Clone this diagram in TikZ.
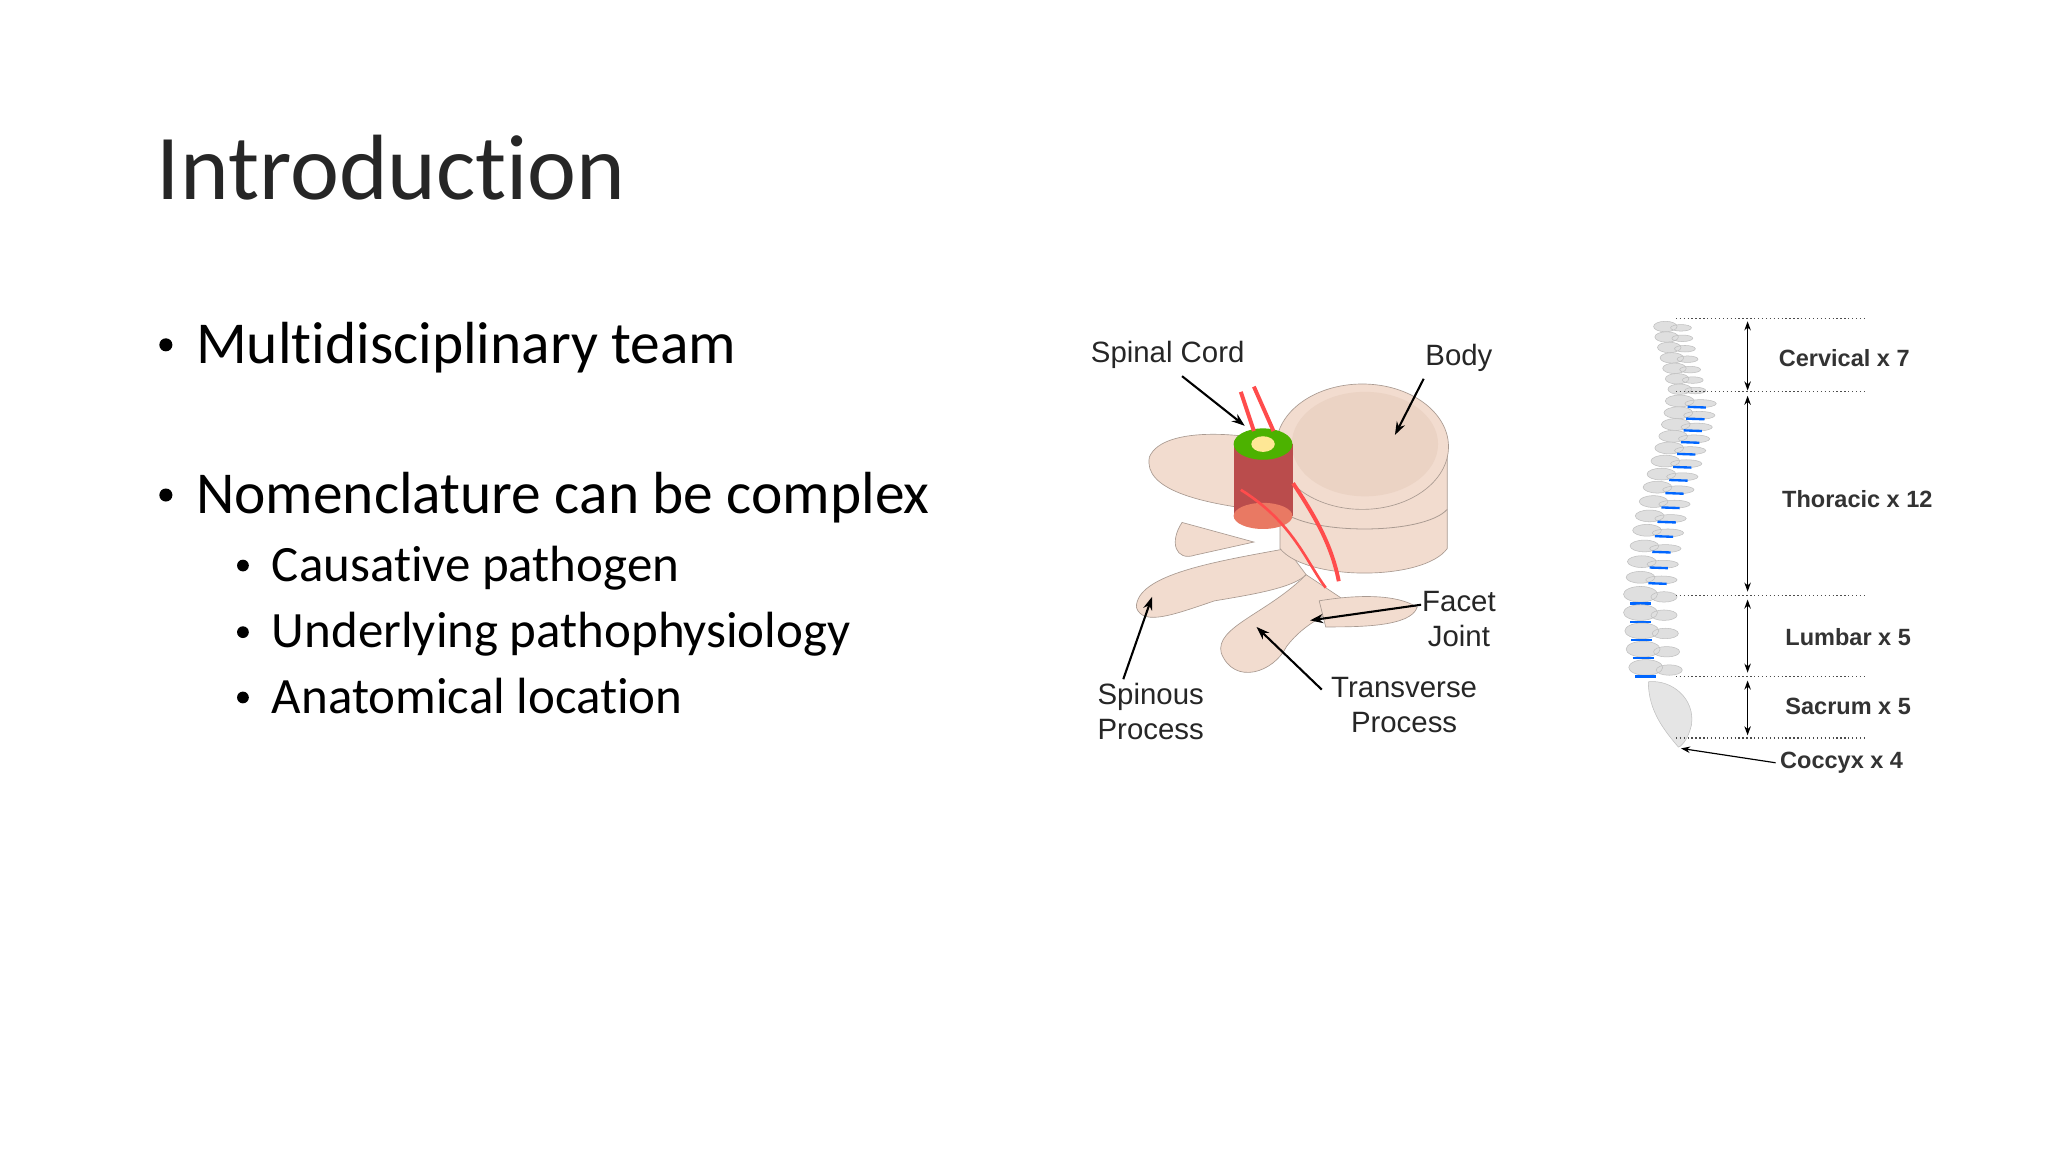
\documentclass[tikz,border=0pt]{standalone}
\usepackage{fontspec}
\setmainfont{Carlito}[Ligatures=NoCommon]
\newfontfamily\lab{Liberation Sans}
\usetikzlibrary{arrows.meta}
\begin{document}
\begin{tikzpicture}[x=1pt,y=-1pt,
  lbl/.style={font=\lab\fontsize{22.5}{27}\selectfont,align=center,text=black!85},
  slbl/.style={font=\lab\bfseries\fontsize{18}{22}\selectfont,text=black!80},
  arr/.style={-{Stealth[length=10pt,width=7pt]},line width=1.6pt},
  dim/.style={{Stealth[length=7pt,width=5pt]}-{Stealth[length=7pt,width=5pt]},line width=0.9pt},
  dots/.style={dotted,line width=1pt,black!70},
  bullet/.style={circle,fill=black,inner sep=0pt,minimum size=10pt},
  bone/.style={fill=bonec,draw=bonec!70!black,line width=0.5pt}]
\definecolor{bonec}{HTML}{F2DCCF}
\definecolor{bodytop}{HTML}{EBD3C4}
\useasboundingbox (0,0) rectangle (1568,882);
\fill[white] (0,0) rectangle (1568,882);
% text
\node[anchor=base west,inner sep=0pt,font=\fontsize{71}{80}\selectfont,text=black!85] (title) at (120,153) {Introduction};
\node[bullet] (p1) at (127,264) {};
\node[anchor=base west,inner sep=0pt,font=\fontsize{45.5}{52}\selectfont] (b1) at (150,278) {Multidisciplinary team};
\node[bullet] (p2) at (127,379) {};
\node[anchor=base west,inner sep=0pt,font=\fontsize{45.5}{52}\selectfont] (b2) at (150,393) {Nomenclature can be complex};
\node[bullet,minimum size=9pt] (p3) at (186,433) {};
\node[anchor=base west,inner sep=0pt,font=\fontsize{39}{46}\selectfont] (s1) at (208,445) {Causative pathogen};
\node[bullet,minimum size=9pt] (p4) at (186,484) {};
\node[anchor=base west,inner sep=0pt,font=\fontsize{39}{46}\selectfont] (s2) at (208,496) {Underlying pathophysiology};
\node[bullet,minimum size=9pt] (p5) at (186,534) {};
\node[anchor=base west,inner sep=0pt,font=\fontsize{39}{46}\selectfont] (s3) at (208,546) {Anatomical location};
% vertebra
\path[bone] (1000,345) .. controls (960,330) and (890,325) .. (880,350) .. controls (875,375) and (920,385) .. (960,390) -- cycle;
\path[bone] (905,400) .. controls (895,415) and (900,430) .. (915,425) -- (960,415) -- cycle;
\path[bone] (985,420) .. controls (930,430) and (870,440) .. (870,465) .. controls (875,480) and (900,470) .. (930,460) .. controls (960,455) and (990,450) .. (1000,440) -- cycle;
\path[bone] (1000,440) .. controls (970,470) and (930,480) .. (935,500) .. controls (945,525) and (975,515) .. (985,495) .. controls (1000,475) and (1020,470) .. (1030,460) -- cycle;
\path[bone] (1010,460) .. controls (1040,455) and (1070,455) .. (1085,465) .. controls (1080,480) and (1040,480) .. (1015,480) -- cycle;
\path[bone] (980,340) -- (980,420) .. controls (1000,445) and (1090,445) .. (1108,420) -- (1108,340) -- cycle;
\draw[bonec!70!black,line width=0.6pt] (980,390) .. controls (1000,410) and (1090,410) .. (1108,390);
\path[bone] (1043,342) ellipse[x radius=66,y radius=48];
\fill[bodytop] (1045,340) ellipse[x radius=56,y radius=40];
% spinal cord
\fill[red!55!black!60!pink] (945,340) rectangle (990,395);
\fill[red!50!brown!70] (967,395) ellipse[x radius=22.5,y radius=10];
\fill[green!50!black!60!lime] (967,340) ellipse[x radius=22.5,y radius=12];
\fill[yellow!60!orange!40] (967,340) ellipse[x radius=9,y radius=6];
\draw[red!60!pink,line width=3pt] (960,330) -- (950,300) (975,330) -- (960,296) (990,370) .. controls (1010,400) and (1020,420) .. (1025,445);
\draw[red!60!pink,line width=2pt] (950,375) .. controls (990,400) and (1000,430) .. (1015,450);
% labels vertebra
\node[lbl] (sc) at (894,272) {Spinal Cord};
\node[lbl] (bd) at (1117,274) {Body};
\node[lbl] (fj) at (1117,474) {Facet\\Joint};
\node[lbl] (tp) at (1075,540) {Transverse\\Process};
\node[lbl] (sp) at (881,545) {Spinous\\Process};
\coordinate (scT) at (953,326); \coordinate (bdT) at (1068,333);
\coordinate (fjT) at (1003,475); \coordinate (tpT) at (962,480); \coordinate (spT) at (882,457);
\draw[arr] (905,288) -- (scT);
\draw[arr] (1090,290) -- (bdT);
\draw[arr] (1088,463) -- (fjT);
\draw[arr] (1012,528) -- (tpT);
\draw[arr] (860,520) -- (spT);
% spine column
\foreach \y/\x in {250/1275,258/1276,266/1278,274/1280,282/1282,290/1284,298/1286}
  \path[fill=gray!25,draw=gray!50] (\x,\y) ellipse[x radius=9,y radius=4] (\x+12,\y+1) ellipse[x radius=8,y radius=2.5];
\foreach \y/\x in {307/1286,316/1285,325/1283,334/1281,343/1278,353/1275,363/1272,373/1269,384/1266,395/1263,406/1261,418/1259,430/1257,442/1256}
  {\path[fill=gray!25,draw=gray!50] (\x,\y) ellipse[x radius=11,y radius=4.5] (\x+16,\y+2) ellipse[x radius=12,y radius=3];
   \draw[blue!60!cyan,line width=1.8pt] (\x+6,\y+4.5) -- (\x+20,\y+5);}
\foreach \y/\x in {455/1256,469/1256,483/1257,497/1258,511/1260}
  {\path[fill=gray!25,draw=gray!50] (\x,\y) ellipse[x radius=13,y radius=6] (\x+18,\y+2) ellipse[x radius=10,y radius=4];
   \draw[blue!60!cyan,line width=1.8pt] (\x-8,\y+7) -- (\x+8,\y+7);}
\path[fill=gray!20,draw=gray!50] (1262,522) .. controls (1280,520) and (1298,535) .. (1295,555) .. controls (1292,568) and (1286,572) .. (1285,572) .. controls (1275,560) and (1262,545) .. (1262,522) -- cycle;
% spine dims
\foreach \y in {244,300,456,518,565} \draw[dots] (1283,\y) -- (1428,\y);
\coordinate (d1) at (1338,246); \coordinate (d2) at (1338,299);
\coordinate (d3) at (1338,303); \coordinate (d4) at (1338,453);
\coordinate (d5) at (1338,459); \coordinate (d6) at (1338,515);
\coordinate (d7) at (1338,521); \coordinate (d8) at (1338,563);
\draw[dim] (d1) -- (d2); \draw[dim] (d3) -- (d4); \draw[dim] (d5) -- (d6); \draw[dim] (d7) -- (d8);
\node[slbl] (cv) at (1412,274) {Cervical x 7};
\node[slbl] (th) at (1422,382) {Thoracic x 12};
\node[slbl] (lu) at (1415,488) {Lumbar x 5};
\node[slbl] (sa) at (1415,541) {Sacrum x 5};
\node[slbl] (co) at (1410,584) {Coccyx x 4};
\coordinate (coT) at (1287,573);
\draw[-{Stealth[length=7pt,width=5pt]},line width=0.9pt] (co.west) -- (coT);
\end{tikzpicture}
\end{document}
